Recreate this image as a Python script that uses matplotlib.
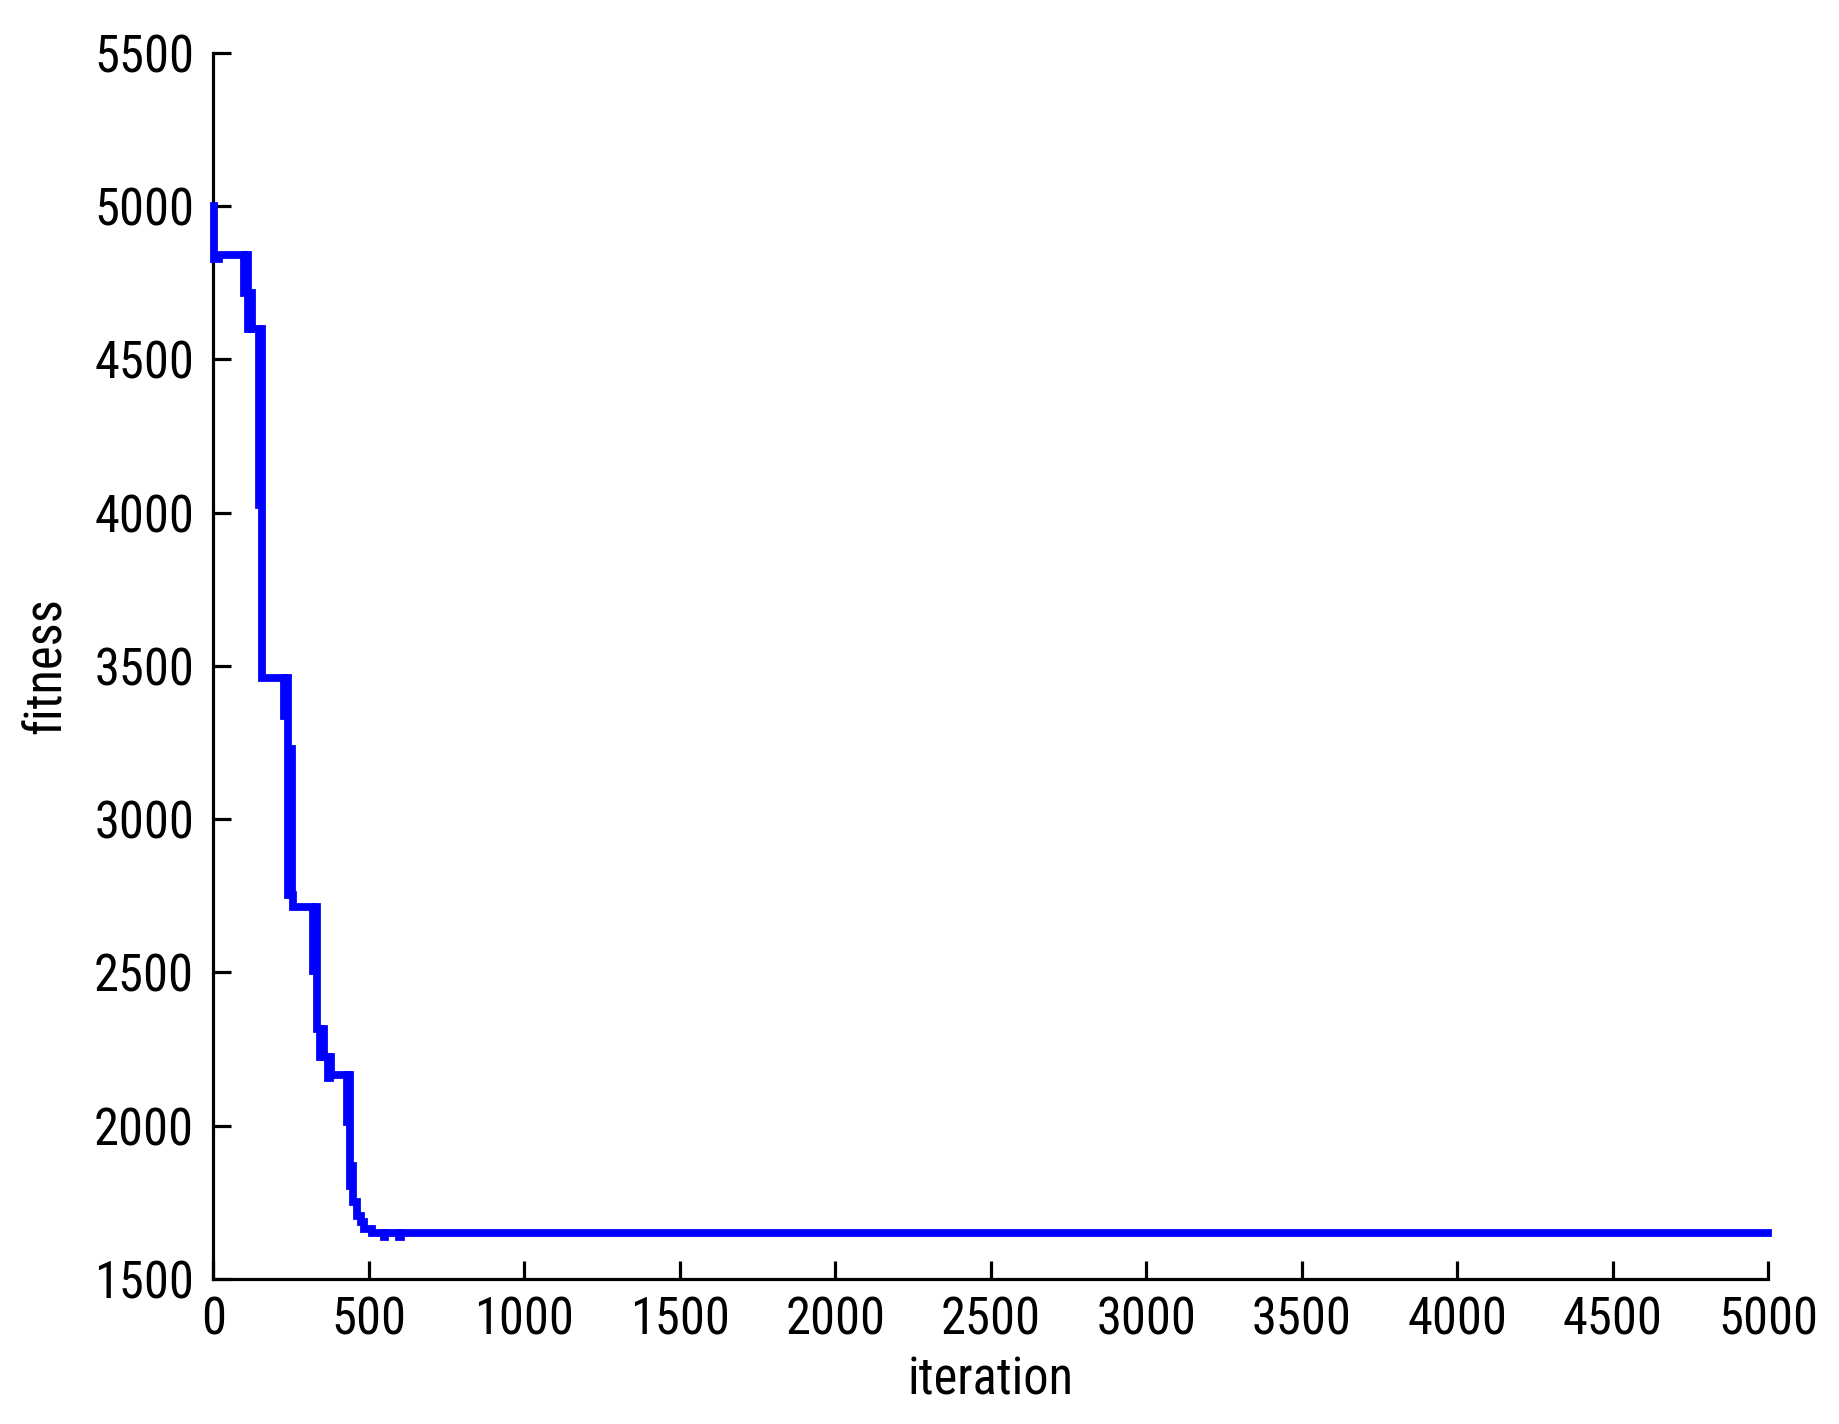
import matplotlib
matplotlib.use("Agg")
import matplotlib.pyplot as plt

# step change points of the fitness curve (iteration, value)
iterations = [1, 2, 18, 99, 105, 111, 117, 123, 147, 152, 157, 228, 233, 239,
              245, 251, 257, 321, 327, 333, 344, 350, 355, 368, 374, 379, 428,
              434, 439, 445, 450, 461, 473, 485, 509, 548, 550, 598, 603, 5000]
fitness = [5000, 4827, 4842, 4715, 4842, 4598, 4715, 4598, 4024, 4598, 3461,
           3335, 3461, 2752, 3228, 2752, 2713, 2504, 2713, 2314, 2225, 2314,
           2225, 2155, 2225, 2164, 2012, 2164, 1802, 1870, 1752, 1705, 1687,
           1662, 1649, 1638, 1649, 1638, 1649, 1649]

x_ticks = [0, 500, 1000, 1500, 2000, 2500, 3000, 3500, 4000, 4500, 5000]
y_ticks = [1500, 2000, 2500, 3000, 3500, 4000, 4500, 5000, 5500]

FONT = ['Roboto Condensed', 'Archivo Narrow', 'Liberation Sans', 'DejaVu Sans']
plt.rcParams['font.family'] = FONT
FS = 18.2

fig = plt.figure(figsize=(9.2, 7.12), dpi=200)
ax = fig.add_axes([213.5 / 1840, 1 - 1279 / 1424, 1555 / 1840, 1226.2 / 1424])

ax.plot(iterations, fitness, drawstyle='steps-post', color='#0000ff',
        linewidth=2.8, solid_joinstyle='miter', zorder=3, clip_on=False)

ax.set_xlim(0, 5000)
ax.set_ylim(1500, 5500)
ax.set_xticks(x_ticks)
ax.set_yticks(y_ticks)

for side in ['top', 'right']:
    ax.spines[side].set_visible(False)
for side in ['left', 'bottom']:
    ax.spines[side].set_linewidth(1.15)

ax.tick_params(direction='in', length=6.5, width=1.15, pad=7,
               labelsize=FS, colors='black')
ax.tick_params(axis='x', pad=6)

ax.set_xlabel('iteration', fontsize=FS, labelpad=3.5)
ax.set_ylabel('fitness', fontsize=FS, labelpad=8)

fig.savefig('out.png', dpi=200, facecolor='white')
